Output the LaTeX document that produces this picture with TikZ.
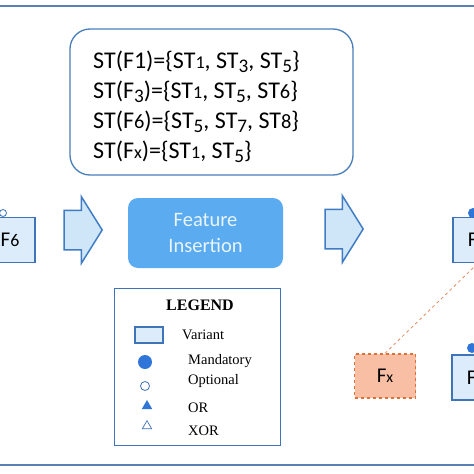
\documentclass[tikz,border=0pt]{standalone}
\usepackage{fontspec}
\usepackage{graphicx}
\setmainfont{Carlito}
\newfontfamily\legendfont{Liberation Serif}
\usetikzlibrary{shapes.arrows, shapes.geometric}

\definecolor{ruleblue}{HTML}{5A80B4}
\definecolor{boxblue}{HTML}{4A7EBB}
\definecolor{varfill}{HTML}{DCECFA}
\definecolor{varline}{HTML}{3F74B8}
\definecolor{arrfill}{HTML}{CFE6F8}
\definecolor{arrline}{HTML}{3F7CC4}
\definecolor{insfill}{HTML}{5AABF0}
\definecolor{instext}{HTML}{EAF4FC}
\definecolor{mandblue}{HTML}{2F76D8}
\definecolor{newfill}{HTML}{F8BFA5}
\definecolor{newline}{HTML}{E0703A}

% old-style looking digits
\newcommand{\ox}[1]{\scalebox{0.75}{#1}}
\newcommand{\od}[1]{\raisebox{-0.17em}{\scalebox{0.8}{#1}}}
\newcommand{\oa}[1]{\scalebox{0.85}{#1}}

\begin{document}
\begin{tikzpicture}[x=1pt,y=-1pt,
  var/.style={draw=varline,fill=varfill,line width=1.3pt,minimum width=50pt,minimum height=45pt,inner sep=0pt,font=\fontsize{21}{21}\selectfont},
  mand/.style={circle,fill=mandblue,inner sep=0pt,minimum size=10pt},
  opt/.style={circle,draw=varline,fill=white,line width=0.8pt,inner sep=0pt,minimum size=7pt},
  blockarrow/.style={single arrow,draw=arrline,fill=arrfill,line width=1.5pt,inner xsep=0pt,inner ysep=19pt,single arrow head extend=13.5pt,single arrow tip angle=116,minimum height=38pt},
  lab/.style={anchor=west,inner sep=0pt,font=\legendfont\fontsize{14.5}{14.5}\selectfont}]
\clip (0,0) rectangle (474,474);
\fill[white] (0,0) rectangle (474,474);
\draw[ruleblue,line width=2pt] (0,6) -- (474,6);
\draw[ruleblue,line width=2pt] (0,465) -- (474,465);

\node[draw=boxblue,line width=1.3pt,rounded corners=20pt,minimum width=283pt,minimum height=146pt] (s) at (211.5,102) {};
\node[anchor=north west,align=left,inner sep=0pt,font=\fontsize{24}{30}\selectfont] (st) at (93,51)
  {ST(F1)=\{ST\ox1, ST\od3, ST\od5\}\\ST(F\od3)=\{ST\ox1, ST\od5, ST\oa6\}\\ST(F\oa6)=\{ST\od5, ST\od7, ST\oa8\}\\ST(F\ox{x})=\{ST\ox1, ST\od5\}};

\node[var] (f6) at (10,240) {F\oa6};
\node[opt] (o6) at (3,213) {};
\node[blockarrow] (a1) at (77,230) {};
\node[fill=insfill,rounded corners=10pt,minimum width=155pt,minimum height=70pt,align=center,text=instext,font=\fontsize{20.5}{26}\selectfont] (fi) at (205.5,233) {Feature\\Insertion};
\node[blockarrow] (a2) at (338,229) {};
\node[var] (f1) at (478,240) {F\phantom{1}};
\node[mand] (m1) at (473,213) {};
\node[var] (f3) at (477,377.5) {F\phantom{3}};
\node[mand] (m3) at (472,348) {};
\node[draw=newline,fill=newfill,dashed,line width=1.3pt,minimum width=61pt,minimum height=44pt,font=\fontsize{21}{21}\selectfont] (fx) at (385,376) {F\ox{x}};
\draw[newline!80,dashed,line width=0.8pt] (fx.north) -- (f1.south);

% legend
\node[draw=varline,line width=0.8pt,minimum width=166pt,minimum height=157pt] (lg) at (197,366.5) {};
\node[font=\legendfont\bfseries\fontsize{16}{16}\selectfont] (lt) at (200,305) {LEGEND};
\node[var,minimum width=28pt,minimum height=16pt] (lv) at (149,335) {};
\node[lab] (lvt) at (182,335) {Variant};
\node[mand,minimum size=14pt] (lm) at (145,362) {};
\node[lab] (lmt) at (188,361) {Mandatory};
\node[opt,minimum size=9pt] (lo) at (145,386) {};
\node[lab] (lot) at (188,381) {Optional};
\node[isosceles triangle,shape border rotate=90,fill=mandblue,inner sep=0pt,minimum size=9pt,isosceles triangle apex angle=60] (lor) at (147,406) {};
\node[lab] (lort) at (188,408) {OR};
\node[isosceles triangle,shape border rotate=90,draw=varline,line width=0.7pt,fill=white,inner sep=0pt,minimum size=8pt,isosceles triangle apex angle=60] (lx) at (147,426) {};
\node[lab] (lxt) at (188,431) {XOR};
\end{tikzpicture}
\end{document}
